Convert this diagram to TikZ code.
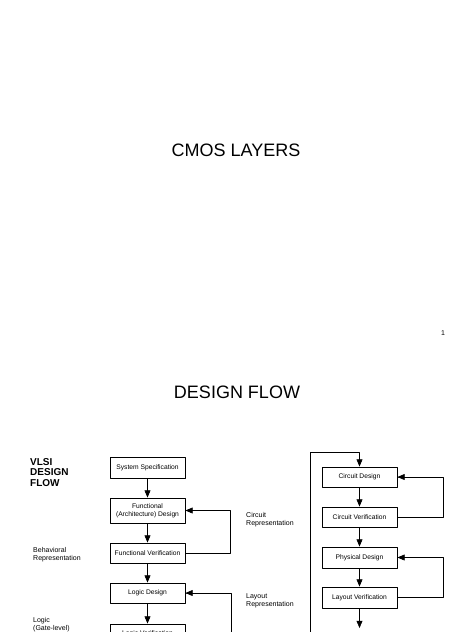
\documentclass[tikz,border=0pt]{standalone}
\usepackage{fontspec}
\setmainfont{Liberation Sans}
\usepackage{tikz}
\usetikzlibrary{arrows}

\begin{document}
\begin{tikzpicture}[line cap=round,line join=round,>=triangle 45,x=1pt,y=-1pt,
  stage/.style={draw,line width=0.9pt,minimum width=75pt,minimum height=20pt,inner sep=1pt,align=center,font=\fontsize{6.7}{7.6}\selectfont},
  side/.style={anchor=north west,inner sep=0pt,align=left,font=\fontsize{7}{8}\selectfont},
  flow/.style={->,line width=0.65pt}]
\clip (0,0) rectangle (474,632);
\node (cmos) at (236,150) {\fontsize{18}{20}\selectfont CMOS LAYERS};
\node (pnum) at (443,333) {\fontsize{7}{8}\selectfont 1};
\node (dflow) at (237,392) {\fontsize{18}{20}\selectfont DESIGN FLOW};
\node[side,font=\fontsize{10}{10.5}\selectfont\bfseries] (vlsi) at (30,458) {VLSI\\DESIGN\\FLOW};
\node[side] (behav) at (33,547.5) {Behavioral\\Representation};
\node[side,font=\fontsize{7}{7.6}\selectfont] (logic) at (33,617.5) {Logic\\(Gate-level)};
\node[side] (circ) at (246,512.5) {Circuit\\Representation};
\node[side] (lay) at (246,593.5) {Layout\\Representation};
\node[stage,minimum height=21pt] (sysspec) at (147.5,467.5) {System Specification};
\node[stage,minimum height=25pt] (funcdes) at (147.5,510.5) {Functional\\(Architecture) Design};
\node[stage] (funcver) at (147.5,553) {Functional Verification};
\node[stage] (logdes) at (147.5,593) {Logic Design};
\node[stage] (logver) at (147.5,634) {Logic Verification};
\node[stage] (cirdes) at (359.5,477) {Circuit Design};
\node[stage] (cirver) at (359.5,517) {Circuit Verification};
\node[stage,minimum height=21pt] (phydes) at (359.5,557.5) {Physical Design};
\node[stage,minimum height=21pt] (layver) at (359.5,597.5) {Layout Verification};
\coordinate (logret) at (231,640);
\coordinate (outer) at (310,640);
\coordinate (topc) at (310,452);
\coordinate (layout) at (359.5,628);
\draw [flow] (sysspec) -- (funcdes);
\draw [flow] (funcdes) -- (funcver);
\draw [flow] (funcver) -- (logdes);
\draw [flow] (logdes) -- (logver);
\draw [flow] (funcver.east) -- ++(45,0) |- (funcdes.east);
\draw [flow] (logret) |- (logdes.east);
\draw [flow] (outer) -- (topc) -| (cirdes.north);
\draw [flow] (cirdes) -- (cirver);
\draw [flow] (cirver) -- (phydes);
\draw [flow] (phydes) -- (layver);
\draw [flow] (layver) -- (layout);
\draw [flow] (cirver.east) -- ++(46,0) |- (cirdes.east);
\draw [flow] (layver.east) -- ++(46,0) |- (phydes.east);
\end{tikzpicture}
\end{document}
